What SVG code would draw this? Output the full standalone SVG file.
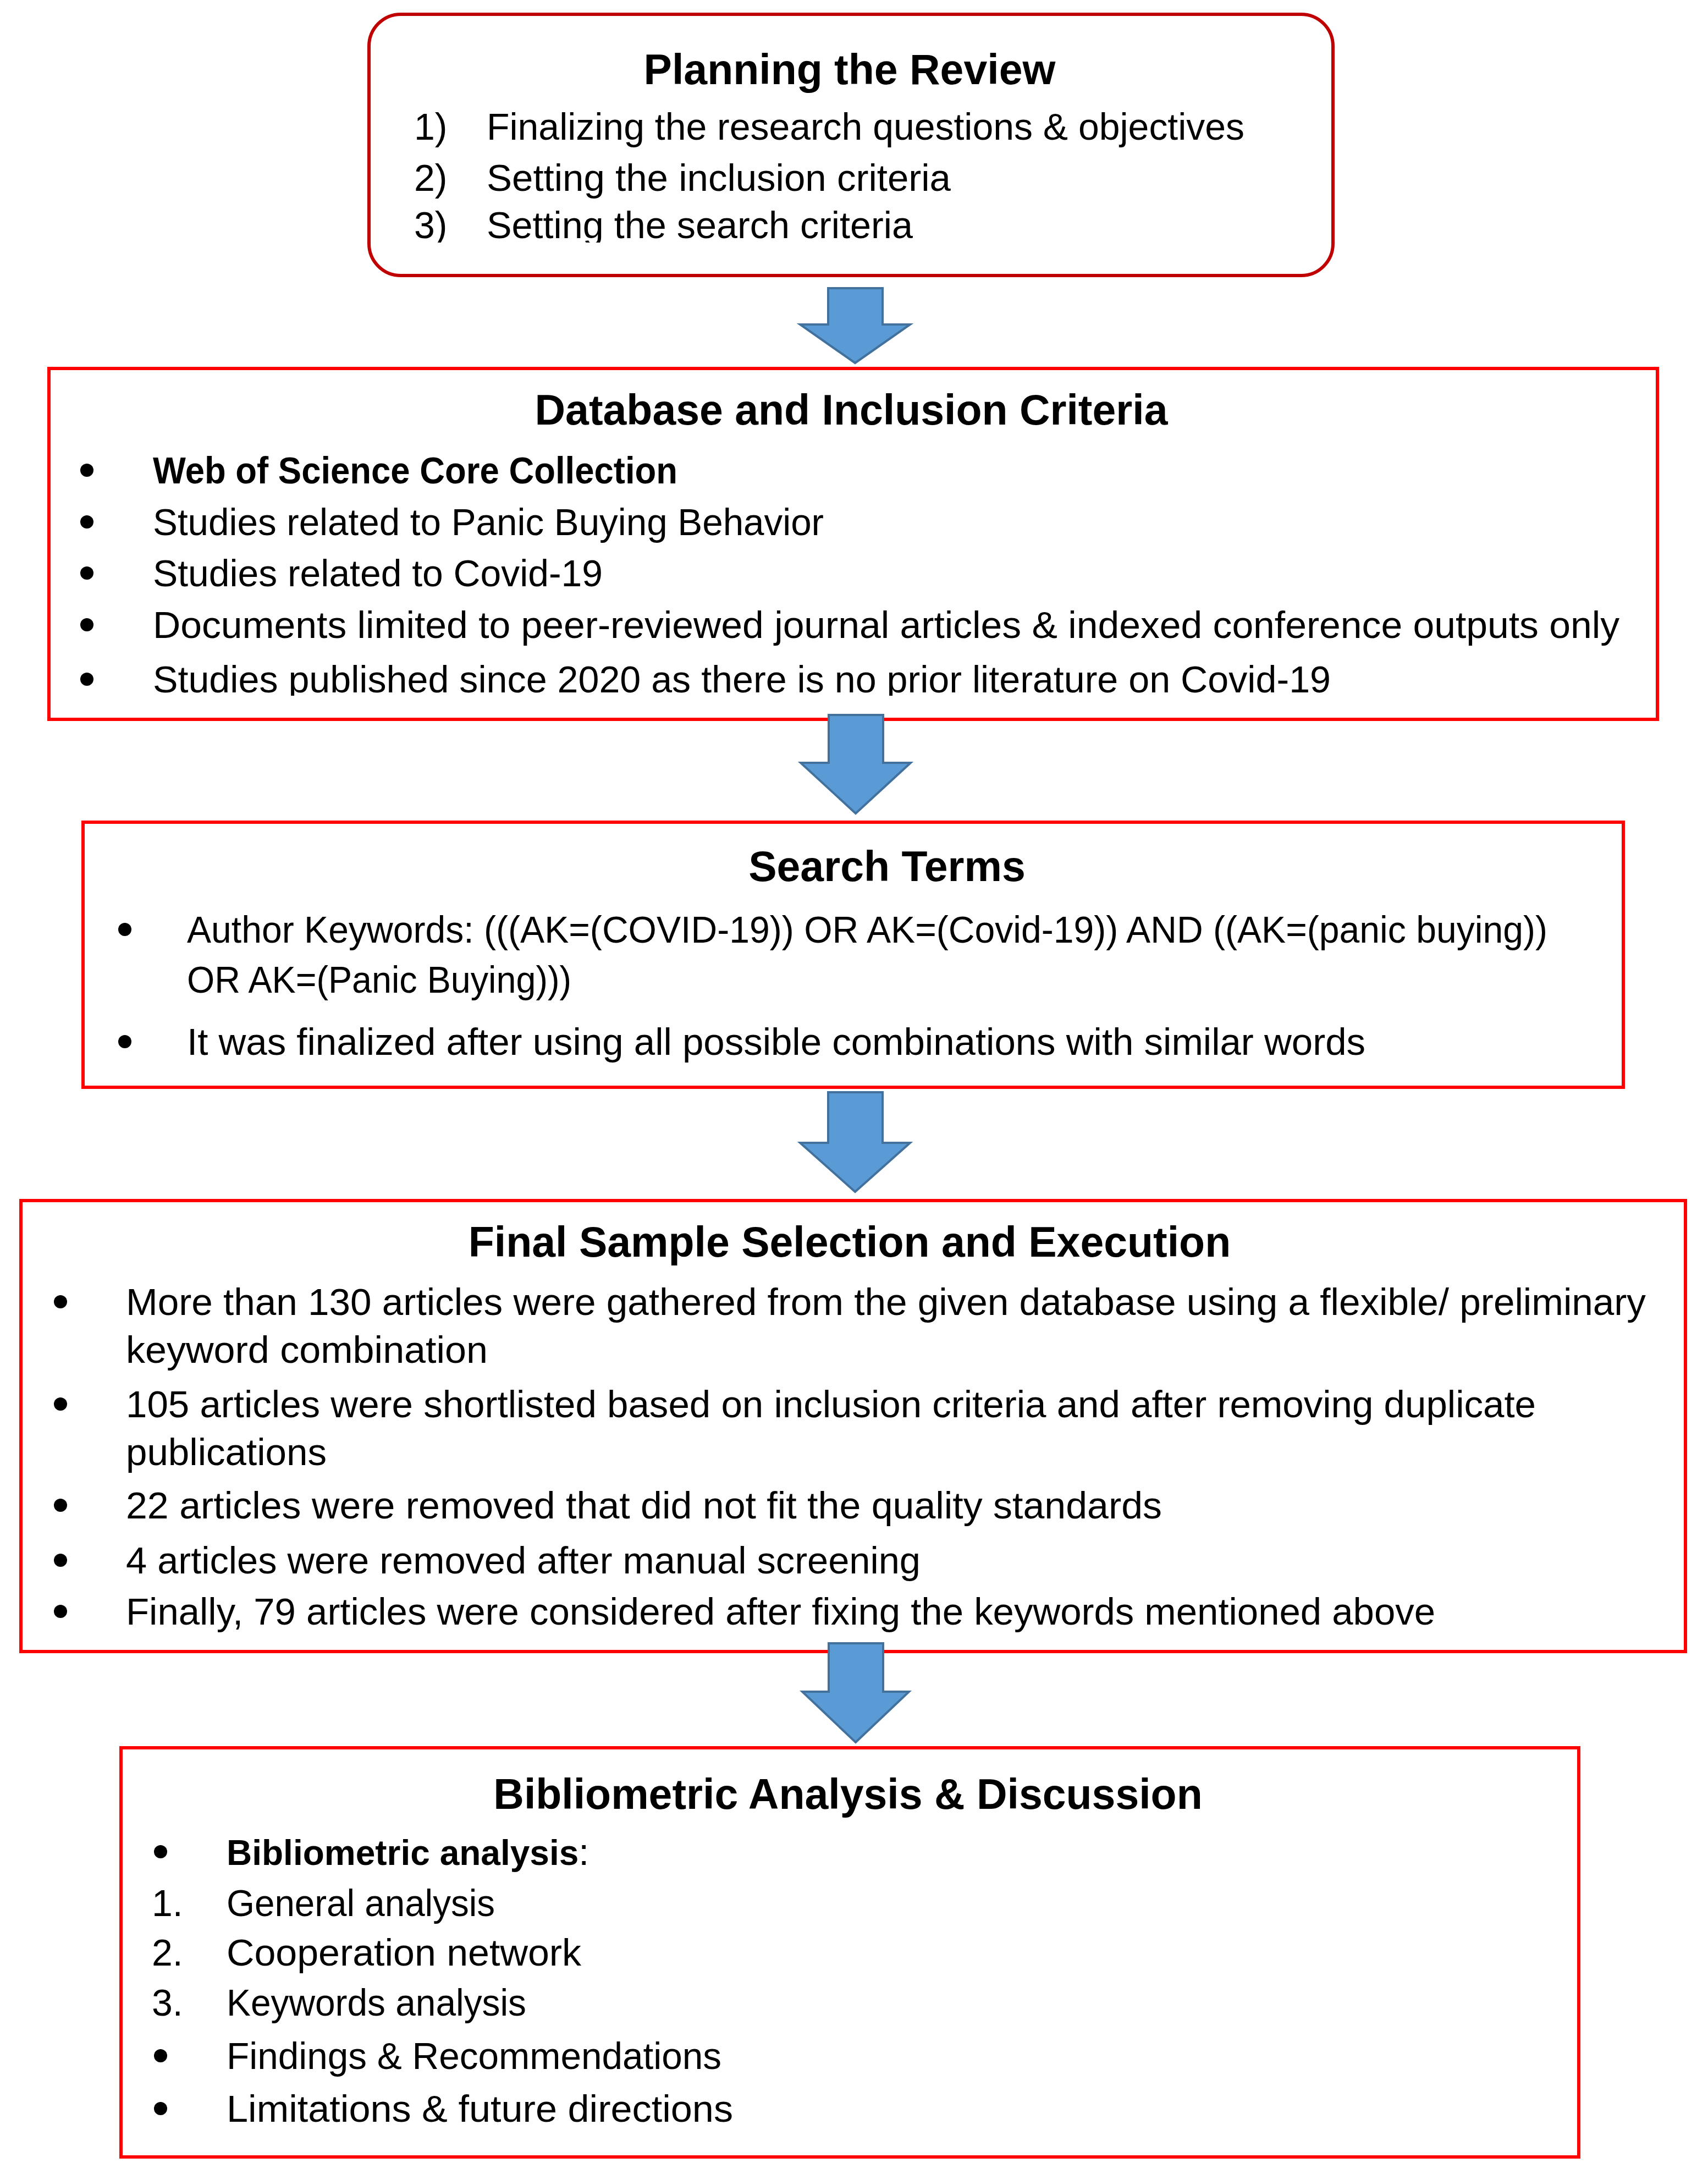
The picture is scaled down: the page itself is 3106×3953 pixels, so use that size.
<svg xmlns="http://www.w3.org/2000/svg" width="3106" height="3953" viewBox="0 0 3106 3953">
<style>
.box{fill:none;stroke:#ff0000;stroke-width:6}
.box1{fill:none;stroke:#c00000;stroke-width:6}
text{font-family:"Liberation Sans",Arial,sans-serif;fill:#000}
.t{font-size:68px}
.h{font-size:77px;font-weight:700;text-anchor:middle}
.b{font-weight:700}
.dot{fill:#000}
.arrow{fill:#5b9bd5;stroke:#41719c;stroke-width:4;stroke-linejoin:miter}
</style>
<defs>
<clipPath id="clip1"><rect x="671" y="26" width="1753" height="415"/></clipPath>
<clipPath id="clip2"><rect x="89" y="670" width="2925" height="595"/></clipPath>
</defs>
<rect x="0" y="0" width="3106" height="3953" fill="#ffffff"/>

<g id="node-planning">
<rect class="box1" x="671" y="26" width="1753" height="475" rx="58" ry="58"/>
<text class="h" x="1545" y="153">Planning the Review</text>
<g clip-path="url(#clip1)">
<text class="t" x="753" y="254">1)</text>
<text class="t" x="885" y="254" textLength="1378" lengthAdjust="spacingAndGlyphs">Finalizing the research questions &amp; objectives</text>
<text class="t" x="753" y="347">2)</text>
<text class="t" x="885" y="347" textLength="844" lengthAdjust="spacingAndGlyphs">Setting the inclusion criteria</text>
<text class="t" x="753" y="433">3)</text>
<text class="t" x="885" y="433" textLength="775" lengthAdjust="spacingAndGlyphs">Setting the search criteria</text>
</g>
</g>

<g id="node-database">
<rect class="box" x="89" y="670" width="2925" height="638"/>
<text class="h" x="1548" y="772">Database and Inclusion Criteria</text>
<g clip-path="url(#clip2)">
<circle class="dot" cx="158" cy="855" r="12"/>
<text class="t b" x="278" y="879" textLength="954" lengthAdjust="spacingAndGlyphs">Web of Science Core Collection</text>
<circle class="dot" cx="158" cy="949" r="12"/>
<text class="t" x="278" y="973" textLength="1220" lengthAdjust="spacingAndGlyphs">Studies related to Panic Buying Behavior</text>
<circle class="dot" cx="158" cy="1042" r="12"/>
<text class="t" x="278" y="1066" textLength="818" lengthAdjust="spacingAndGlyphs">Studies related to Covid-19</text>
<circle class="dot" cx="158" cy="1136" r="12"/>
<text class="t" x="278" y="1160" textLength="2667" lengthAdjust="spacingAndGlyphs">Documents limited to peer-reviewed journal articles &amp; indexed conference outputs only</text>
<circle class="dot" cx="158" cy="1235" r="12"/>
<text class="t" x="278" y="1259" textLength="2142" lengthAdjust="spacingAndGlyphs">Studies published since 2020 as there is no prior literature on Covid-19</text>
</g>
</g>

<g id="node-search">
<rect class="box" x="151" y="1495" width="2801" height="482"/>
<text class="h" x="1613" y="1602">Search Terms</text>
<circle class="dot" cx="227" cy="1690" r="12"/>
<text class="t" x="340" y="1714" textLength="2474" lengthAdjust="spacingAndGlyphs">Author Keywords: (((AK=(COVID-19)) OR AK=(Covid-19)) AND ((AK=(panic buying))</text>
<text class="t" x="340" y="1805" textLength="699" lengthAdjust="spacingAndGlyphs">OR AK=(Panic Buying)))</text>
<circle class="dot" cx="227" cy="1894" r="12"/>
<text class="t" x="340" y="1918" textLength="2143" lengthAdjust="spacingAndGlyphs">It was finalized after using all possible combinations with similar words</text>
</g>

<g id="node-final">
<rect class="box" x="38" y="2183" width="3027" height="820"/>
<text class="h" x="1545" y="2285">Final Sample Selection and Execution</text>
<circle class="dot" cx="110" cy="2367" r="12"/>
<text class="t" x="229" y="2391" textLength="2764" lengthAdjust="spacingAndGlyphs">More than 130 articles were gathered from the given database using a flexible/ preliminary</text>
<text class="t" x="229" y="2478" textLength="658" lengthAdjust="spacingAndGlyphs">keyword combination</text>
<circle class="dot" cx="110" cy="2553" r="12"/>
<text class="t" x="229" y="2577" textLength="2564" lengthAdjust="spacingAndGlyphs">105 articles were shortlisted based on inclusion criteria and after removing duplicate</text>
<text class="t" x="229" y="2664" textLength="365" lengthAdjust="spacingAndGlyphs">publications</text>
<circle class="dot" cx="110" cy="2737" r="12"/>
<text class="t" x="229" y="2761" textLength="1884" lengthAdjust="spacingAndGlyphs">22 articles were removed that did not fit the quality standards</text>
<circle class="dot" cx="110" cy="2837" r="12"/>
<text class="t" x="229" y="2861" textLength="1445" lengthAdjust="spacingAndGlyphs">4 articles were removed after manual screening</text>
<circle class="dot" cx="110" cy="2930" r="12"/>
<text class="t" x="229" y="2954" textLength="2381" lengthAdjust="spacingAndGlyphs">Finally, 79 articles were considered after fixing the keywords mentioned above</text>
</g>

<g id="node-bibliometric">
<rect class="box" x="220" y="3178" width="2651" height="744"/>
<text class="h" x="1542" y="3289">Bibliometric Analysis &amp; Discussion</text>
<circle class="dot" cx="292" cy="3367" r="12"/>
<text class="t" x="412" y="3391"><tspan class="b" font-size="64">Bibliometric analysis</tspan>:</text>
<text class="t" x="276" y="3484">1.</text>
<text class="t" x="412" y="3484" textLength="488" lengthAdjust="spacingAndGlyphs">General analysis</text>
<text class="t" x="276" y="3574">2.</text>
<text class="t" x="412" y="3574" textLength="645" lengthAdjust="spacingAndGlyphs">Cooperation network</text>
<text class="t" x="276" y="3665">3.</text>
<text class="t" x="412" y="3665" textLength="545" lengthAdjust="spacingAndGlyphs">Keywords analysis</text>
<circle class="dot" cx="292" cy="3738" r="12"/>
<text class="t" x="412" y="3762" textLength="900" lengthAdjust="spacingAndGlyphs">Findings &amp; Recommendations</text>
<circle class="dot" cx="292" cy="3834" r="12"/>
<text class="t" x="412" y="3858" textLength="921" lengthAdjust="spacingAndGlyphs">Limitations &amp; future directions</text>
</g>

<g id="connectors">
<polygon class="arrow" points="1506,524 1605,524 1605,590 1655,590 1555,660 1455,590 1506,590"/>
<polygon class="arrow" points="1507,1300 1606,1300 1606,1387 1656,1387 1556,1479 1456,1387 1507,1387"/>
<polygon class="arrow" points="1506,1986 1605,1986 1605,2078 1655,2078 1555,2167 1455,2078 1506,2078"/>
<polygon class="arrow" points="1507,2988 1606,2988 1606,3076 1653,3076 1556,3168 1459,3076 1507,3076"/>
</g>
</svg>
